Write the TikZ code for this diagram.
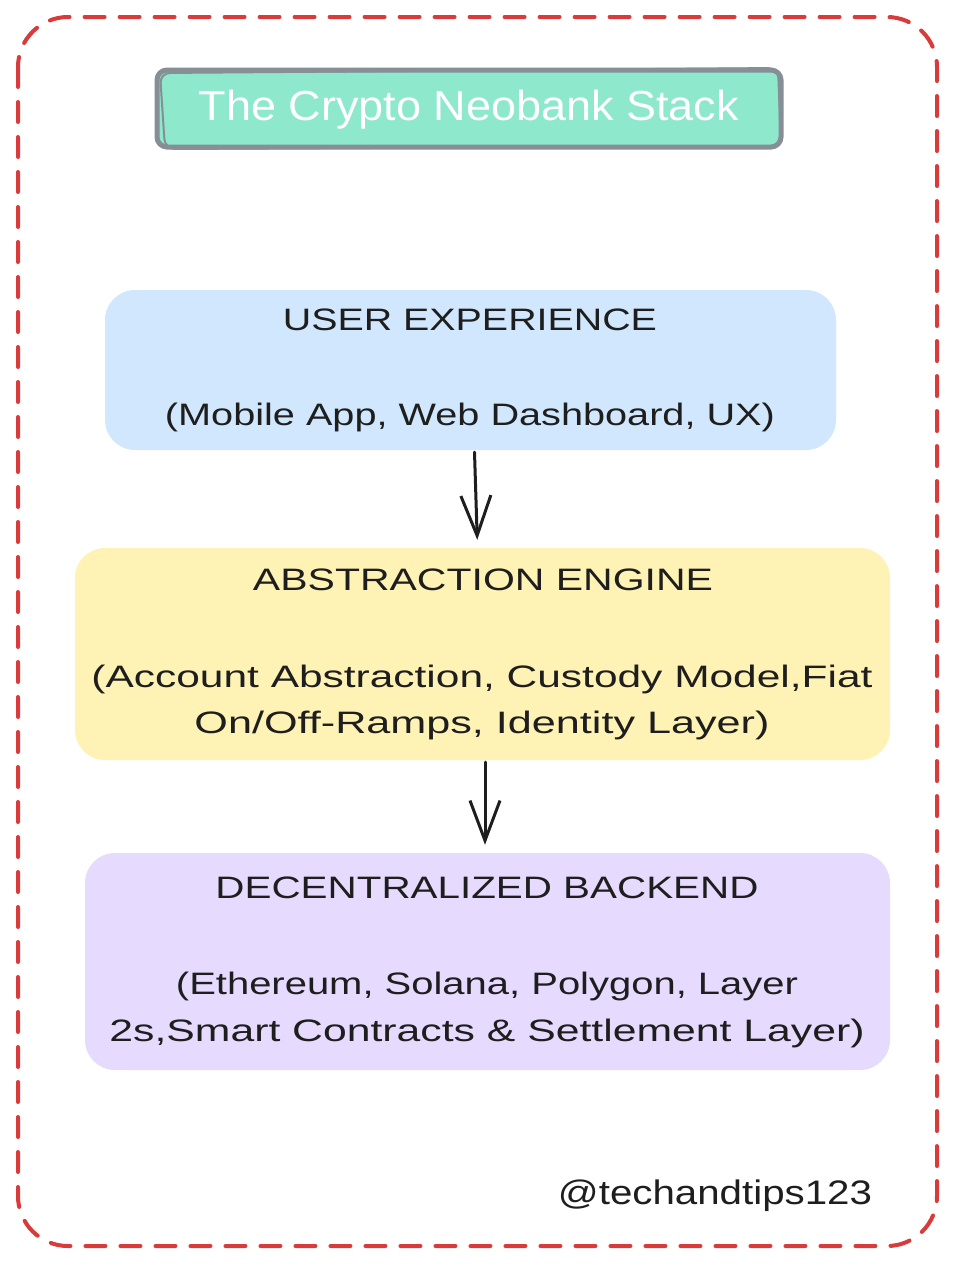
\documentclass[tikz,border=0pt]{standalone}
\usepackage{fontspec}
\setmainfont{Liberation Sans}
\usetikzlibrary{arrows.meta}
\definecolor{dashred}{HTML}{D93A3A}
\definecolor{titlefill}{HTML}{8EE8CC}
\definecolor{titlestroke}{HTML}{868E96}
\definecolor{bluefill}{HTML}{D1E7FD}
\definecolor{yellowfill}{HTML}{FEF3B4}
\definecolor{purplefill}{HTML}{E6DAFE}
\definecolor{ink}{HTML}{1E1E1E}
\newcommand\fitw[2]{\resizebox{#1}{\height}{#2}}
\tikzset{
  layerbox/.style={rounded corners=30pt, inner sep=0pt, draw=none},
  txt/.style={inner sep=0pt, text=ink, font=\fontsize{31}{31}\selectfont},
  arr/.style={draw=ink, line width=3pt, line cap=round, -{Straight Barb[length=40pt, width=30pt, line width=3pt]}},
}
\begin{document}
\begin{tikzpicture}[x=1pt, y=-1pt]
\useasboundingbox (0,0) rectangle (954,1270);
\fill[white] (0,0) rectangle (954,1270);
% outer dashed frame
\draw[dashred, line width=4pt, line cap=round, dash pattern=on 20pt off 15pt, rounded corners=50pt] (18,17) rectangle (937,1246);
% title
\node[draw=titlestroke, fill=titlefill, line width=5pt, rounded corners=10pt, minimum width=624pt, minimum height=77pt, inner sep=0pt] (title) at (469,108.5) {};
\draw[titlestroke, line width=2pt, rounded corners=10pt] (160,73) -- (778,68) -- (781,146) -- (165,149) -- cycle;
\node[inner sep=0pt, text=white, font=\fontsize{42}{42}\selectfont] (titletxt) at ([yshift=-1pt]title.center) {\fitw{540pt}{The Crypto Neobank Stack}};
% box 1
\node[layerbox, fill=bluefill, minimum width=731pt, minimum height=160pt] (b1) at (470.5,370) {};
\node[txt] (b1h) at (470,320) {\fitw{374pt}{USER EXPERIENCE}};
\node[txt] (b1t) at (470,417) {\fitw{610pt}{(Mobile App, Web Dashboard, UX)}};
% box 2
\node[layerbox, fill=yellowfill, minimum width=815pt, minimum height=212pt] (b2) at (482.5,654) {};
\node[txt] (b2h) at (483,580) {\fitw{460pt}{ABSTRACTION ENGINE}};
\node[txt] (b2t1) at (482,679) {\fitw{781pt}{(Account Abstraction, Custody Model,Fiat}};
\node[txt] (b2t2) at (482,725) {\fitw{575pt}{On/Off-Ramps, Identity Layer)}};
% box 3
\node[layerbox, fill=purplefill, minimum width=805pt, minimum height=217pt] (b3) at (487.5,961.5) {};
\node[txt] (b3h) at (487,888) {\fitw{543pt}{DECENTRALIZED BACKEND}};
\node[txt] (b3t1) at (487,986) {\fitw{622pt}{(Ethereum, Solana, Polygon, Layer}};
\node[txt] (b3t2) at (487,1033) {\fitw{755pt}{2s,Smart Contracts \& Settlement Layer)}};
% arrows
\draw[arr, shorten >=8pt] ([xshift=4pt, yshift=-2pt]b1.south) -- ([xshift=-5pt]b2.north);
\draw[arr, shorten >=8pt] ([xshift=2.5pt, yshift=-2pt]b2.south) -- ([xshift=-2.5pt]b3.north);
% watermark
\node[inner sep=0pt, text=ink, font=\fontsize{34}{34}\selectfont] (wm) at (715,1196) {\fitw{314pt}{@techandtips123}};
\end{tikzpicture}
\end{document}
